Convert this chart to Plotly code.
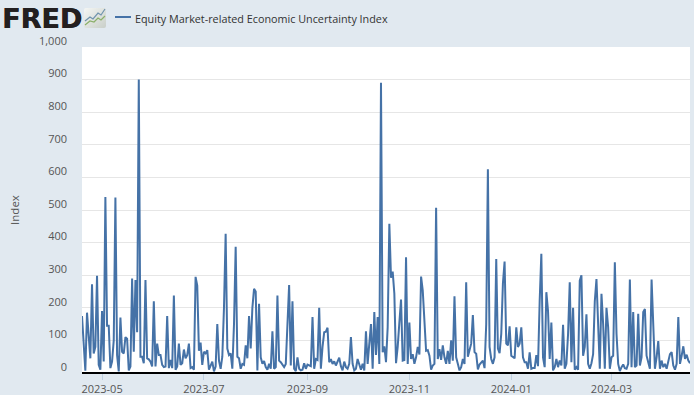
import base64
import pandas as pd
import plotly.graph_objects as go

start_date = "2023-04-19"
tick_dates = ["2023-05-01", "2023-07-01", "2023-09-01", "2023-11-01", "2024-01-01", "2024-03-01"]
tick_labels = ["2023-05", "2023-07", "2023-09", "2023-11", "2024-01", "2024-03"]
y_ticks = [0, 100, 200, 300, 400, 500, 600, 700, 800, 900, 1000]
series_name = "Equity Market-related Economic Uncertainty Index"

values_a = [175, 70, 7, 185, 120, 45, 272, 60, 80, 298, 25, 10, 190, 35, 540, 145, 145, 15, 35, 100,
            538, 55, 5, 170, 65, 60, 110, 105, 8, 20, 290, 65, 285, 125, 900, 50, 50, 30, 285, 45,
            42, 35, 20, 220, 20, 90, 55, 55, 25, 18, 20, 175, 15, 40, 15, 238, 10, 20, 90, 25,
            30, 72, 45, 55, 90, 15, 18, 10, 295, 268, 68, 93, 25, 65, 60, 70, 10, 20, 35, 5,
            20, 150]
values_b = [38, 13, 50, 200, 427, 75, 55, 60, 13, 150, 387, 50, 45, 13, 28, 25, 85, 45, 175, 75,
            200, 258, 250, 8, 212, 48, 28, 37, 18, 10, 28, 13, 128, 13, 18, 238, 38, 33, 23, 18,
            28, 140, 270, 23, 220, 13, 6, 48, 13, 8, 10, 30, 13, 26, 23, 21, 172, 13, 43, 40,
            200, 13, 80, 125, 127, 139, 33, 43, 28, 36, 23, 33, 47, 21, 8, 35, 18, 13, 28, 110,
            28, 8, 13, 43, 28, 10, 28, 8, 128, 28, 90, 150, 13, 187, 55, 172, 28]
values_c = [890, 64, 82, 33, 140, 458, 292, 311, 243, 30, 80, 155, 225, 38, 40, 355, 28, 155, 43, 58,
            28, 48, 80, 57, 296, 253, 150, 68, 70, 53, 10, 23, 28, 507, 43, 73, 40, 85, 48, 28,
            68, 28, 100, 38, 235, 48, 28, 8, 18, 43, 28, 278, 50, 73, 90, 178, 64, 59, 11, 26,
            33, 38, 15, 150, 625, 80, 43, 28, 48, 350, 75, 61, 120, 275, 342, 90, 85, 143, 53, 48,
            45, 140, 80, 90, 140, 48, 33, 33, 13]
values_d = [63, 13, 15, 15, 55, 21, 220, 366, 48, 18, 248, 190, 43, 155, 8, 18, 43, 18, 38, 23,
            148, 13, 28, 120, 278, 33, 200, 10, 18, 10, 283, 300, 53, 80, 180, 28, 13, 30, 58, 220,
            288, 170, 13, 243, 150, 13, 200, 140, 13, 48, 53, 340, 120, 28, 6, 18, 26, 15, 13,
            28, 287, 18, 187, 18, 23, 182, 23, 48, 187, 196, 53, 33, 13, 287, 120, 13, 48, 98, 13,
            38, 18, 28, 13, 38, 58, 64, 23, 10, 28, 172, 28, 53, 82, 43, 56, 38, 30]
index_values = values_a + values_b + values_c + values_d
dates = pd.date_range(start_date, periods=len(index_values), freq="D")

logo_svg = """<svg xmlns='http://www.w3.org/2000/svg' width='22' height='20' viewBox='0 0 22 20'>
<defs><linearGradient id='g' x1='0' y1='0' x2='1' y2='1'><stop offset='0' stop-color='#f4f6f4'/><stop offset='1' stop-color='#c9cfc9'/></linearGradient></defs>
<rect width='22' height='20' rx='2' fill='url(#g)'/>
<polyline points='1,13 6,9 9,11 14,5 17,7 21,1' fill='none' stroke='#6f93ad' stroke-width='1.2'/>
<polyline points='1,17 6,13 10,14 14,10 17,12 21,8' fill='none' stroke='#8bb06a' stroke-width='1.2'/>
</svg>"""
logo_uri = "data:image/svg+xml;base64," + base64.b64encode(logo_svg.encode()).decode()

W, H = 694, 395
L, R, T, B = 82, 4, 47, 22
PW, PH = W - L - R, H - T - B


def px(x):
    return (x - L) / PW


def py(y):
    return (H - B - y) / PH


fig = go.Figure(go.Scatter(x=dates, y=index_values, mode="lines", name=series_name,
                           line=dict(color="#4572a7", width=2), showlegend=False,
                           hoverinfo="x+y"))
fig.update_layout(
    width=W, height=H, autosize=False,
    margin=dict(l=L, r=R, t=T, b=B),
    paper_bgcolor="#e1e9f0", plot_bgcolor="#ffffff",
    font=dict(family="Open Sans", size=11, color="#595959"),
    xaxis=dict(type="date", range=["2023-04-19", "2024-04-17"], tickmode="array",
               tickvals=tick_dates, ticktext=tick_labels, showgrid=False, ticks="outside",
               ticklen=6, tickwidth=1, tickcolor="#c0d0e0", showline=False, zeroline=False,
               automargin=False, tickfont=dict(size=11, color="#555555")),
    yaxis=dict(range=[0, 1000], tickmode="array", tickvals=y_ticks, tickformat=",",
               gridcolor="#e6e6e6", gridwidth=1, zeroline=True, zerolinecolor="#000000",
               zerolinewidth=2, showline=False, ticks="", ticklabelstandoff=14, ticklabelshift=-6,
               automargin=False, tickfont=dict(size=11, color="#555555"),
               title=dict(text="Index", font=dict(size=11.5, color="#555555"), standoff=16)),
    annotations=[
        dict(text="<b>FRED</b>", xref="paper", yref="paper", x=px(0), y=py(18),
             xanchor="left", yanchor="middle", showarrow=False,
             font=dict(family="DejaVu Sans", size=27, color="#231f20",
                       shadow="0.6px 0 0 #231f20")),
        dict(text=series_name, xref="paper", yref="paper", x=px(133), y=py(18),
             xanchor="left", yanchor="middle", showarrow=False,
             font=dict(family="Open Sans", size=10.8, color="#333333")),
    ],
    shapes=[dict(type="line", xref="paper", yref="paper", x0=px(115), x1=px(131),
                 y0=py(17), y1=py(17), line=dict(color="#4572a7", width=2))],
    images=[dict(source=logo_uri, xref="paper", yref="paper", x=px(84), y=py(8),
                 sizex=22 / PW, sizey=20 / PH, xanchor="left", yanchor="top", layer="above")],
)
print(len(index_values), dates[-1])
fig.write_html("out.html", config=dict(displayModeBar=False),
               post_script="document.body.style.margin='0';document.body.style.overflow='hidden';")
